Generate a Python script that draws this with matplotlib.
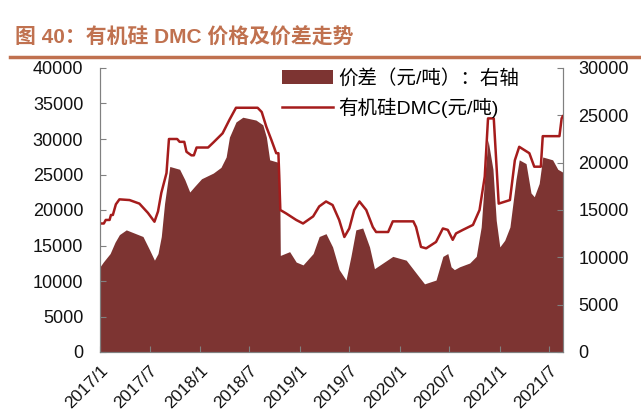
import matplotlib
matplotlib.use("Agg")
import matplotlib.pyplot as plt
import numpy as np
from datetime import datetime

plt.rcParams['font.family'] = ['Liberation Sans', 'Noto Sans CJK SC', 'DejaVu Sans']

# DMC price (yuan/t), left axis
price_dates = ['2017-01-01', '2017-01-15', '2017-01-22', '2017-02-05', '2017-02-10',
               '2017-02-17', '2017-02-28', '2017-03-13', '2017-04-19', '2017-05-25',
               '2017-06-25', '2017-07-19', '2017-08-01', '2017-08-13', '2017-09-01',
               '2017-09-10', '2017-10-10', '2017-10-19', '2017-11-05', '2017-11-13',
               '2017-12-01', '2017-12-10', '2017-12-20', '2018-01-31', '2018-02-19',
               '2018-03-25', '2018-04-19', '2018-05-13', '2018-07-31', '2018-08-15',
               '2018-09-01', '2018-09-19', '2018-10-07', '2018-10-15', '2018-10-22',
               '2018-11-13', '2018-12-19', '2019-01-13', '2019-02-19', '2019-03-13',
               '2019-04-07', '2019-05-01', '2019-05-25', '2019-06-13', '2019-07-01',
               '2019-07-19', '2019-08-07', '2019-09-01', '2019-09-25', '2019-10-07',
               '2019-11-20', '2019-12-07', '2020-02-20', '2020-03-01', '2020-03-19',
               '2020-04-07', '2020-05-13', '2020-06-07', '2020-06-25', '2020-07-13',
               '2020-07-25', '2020-08-19', '2020-09-25', '2020-10-19', '2020-11-07',
               '2020-11-19', '2020-12-10', '2020-12-28', '2021-02-07', '2021-02-25',
               '2021-03-13', '2021-04-19', '2021-05-07', '2021-05-31', '2021-06-07',
               '2021-08-07', '2021-08-15', '2021-08-19']
price = [18100, 18100, 18600, 18600, 19300,
         19300, 20800, 21500, 21400, 20900,
         19600, 18350, 19800, 22400, 25200,
         30000, 30000, 29600, 29600, 28200,
         27700, 27700, 28800, 28800, 29500,
         30800, 32700, 34400, 34400, 33800,
         31700, 29900, 28000, 28000, 20000,
         19500, 18600, 18100, 19100, 20500,
         21200, 20700, 18600, 16200, 17400,
         20000, 21200, 20000, 17600, 16900,
         16900, 18400, 18400, 17600, 14800,
         14600, 15500, 17400, 17200, 15800,
         16700, 17200, 17900, 20000, 24700,
         32900, 32900, 20900, 21400, 27000,
         28900, 28000, 26100, 26100, 30400,
         30400, 32900, 33200]

# price spread (yuan/t), right axis
spread_dates = ['2017-01-01', '2017-01-13', '2017-02-07', '2017-02-25', '2017-03-13',
                '2017-04-07', '2017-06-07', '2017-07-01', '2017-07-19', '2017-08-01',
                '2017-08-13', '2017-08-25', '2017-09-13', '2017-10-19', '2017-11-07',
                '2017-11-25', '2017-12-13', '2018-01-07', '2018-02-19', '2018-03-19',
                '2018-04-07', '2018-04-19', '2018-05-13', '2018-06-07', '2018-07-25',
                '2018-08-19', '2018-09-01', '2018-09-13', '2018-10-19', '2018-10-22',
                '2018-11-25', '2018-12-19', '2019-01-13', '2019-02-19', '2019-03-13',
                '2019-04-07', '2019-05-01', '2019-05-25', '2019-06-19', '2019-07-07',
                '2019-07-25', '2019-08-19', '2019-09-13', '2019-10-01', '2019-12-07',
                '2020-01-25', '2020-03-13', '2020-04-01', '2020-05-13', '2020-06-07',
                '2020-06-25', '2020-07-07', '2020-07-19', '2020-08-07', '2020-09-13',
                '2020-10-07', '2020-10-25', '2020-11-07', '2020-11-19', '2020-12-07',
                '2020-12-19', '2021-01-01', '2021-01-19', '2021-02-07', '2021-03-01',
                '2021-03-13', '2021-04-07', '2021-04-25', '2021-05-07', '2021-05-25',
                '2021-06-07', '2021-07-13', '2021-08-01', '2021-08-19']
spread = [9000, 9500, 10400, 11600, 12400,
          12900, 12200, 10800, 9700, 10400,
          12200, 15700, 19600, 19300, 18200,
          16900, 17500, 18300, 18900, 19500,
          20600, 22700, 24300, 24800, 24500,
          24000, 22700, 20300, 20000, 10200,
          10600, 9500, 9200, 10400, 12200,
          12500, 11100, 8700, 7600, 10100,
          12900, 13100, 11100, 8800, 10100,
          9700, 7900, 7200, 7600, 10100,
          10400, 9000, 8700, 9000, 9400,
          10100, 13200, 18500, 22400, 19300,
          13900, 11100, 11800, 13200, 18200,
          20300, 19900, 16800, 16400, 17800,
          20600, 20300, 19300, 19000]

tick_labels = ['2017/1', '2017/7', '2018/1', '2018/7', '2019/1',
               '2019/7', '2020/1', '2020/7', '2021/1', '2021/7']

to_dt = lambda s: datetime.strptime(s, '%Y-%m-%d')
pd_x = [to_dt(s) for s in price_dates]
sd_x = [to_dt(s) for s in spread_dates]
tick_x = [datetime(int(t.split('/')[0]), int(t.split('/')[1]), 1) for t in tick_labels]

fill_c = '#7D3432'
line_c = '#A51C1C'
axis_c = '#808080'

fig = plt.figure(figsize=(6.41, 4.17), dpi=100)
ax1 = fig.add_axes([100/641, 1-352/417, 463/641, 284/417])
ax2 = ax1.twinx()

ax2.fill_between(sd_x, spread, 0, color=fill_c, linewidth=0, label='价差（元/吨）：右轴')
ax1.plot(pd_x, price, color=line_c, lw=1.8, label='有机硅DMC(元/吨)')

ax1.set_zorder(ax2.get_zorder() + 1)
ax1.patch.set_visible(False)

ax1.set_ylim(0, 40000)
ax2.set_ylim(0, 30000)
ax1.set_yticks(np.arange(0, 40001, 5000))
ax2.set_yticks(np.arange(0, 30001, 5000))
ax1.set_xlim(datetime(2017, 1, 1), datetime(2021, 8, 20))
ax1.set_xticks(tick_x)
ax1.set_xticklabels(tick_labels, rotation=45, ha='right', rotation_mode='anchor')

for ax in (ax1, ax2):
    ax.spines['top'].set_visible(False)
    for s in ('left', 'right', 'bottom'):
        ax.spines[s].set_color(axis_c)
    ax.tick_params(direction='in', length=4, color=axis_c, labelsize=13, labelcolor='#111111')
ax1.tick_params(axis='y', pad=12)
ax2.tick_params(axis='y', pad=11)
ax1.tick_params(axis='x', pad=8, labelsize=12.5)

h1, l1 = ax1.get_legend_handles_labels()
h2, l2 = ax2.get_legend_handles_labels()
fig.legend(h2 + h1, l2 + l1, loc='upper left', bbox_to_anchor=(282/641, 1-69/417),
           frameon=False, fontsize=14, handlelength=2.6, handletextpad=0.3,
           labelspacing=0.5, borderpad=0, borderaxespad=0)

title_c = '#C0714F'
fig.text(15/641, 1-38/417, '图 40：有机硅 DMC 价格及价差走势', fontsize=15, fontweight='bold',
         color=title_c, va='center', ha='left')
fig.add_artist(plt.Line2D([10/641, 1], [1-57/417, 1-57/417], color=title_c, lw=2.5))

fig.savefig('out.png', dpi=100)
